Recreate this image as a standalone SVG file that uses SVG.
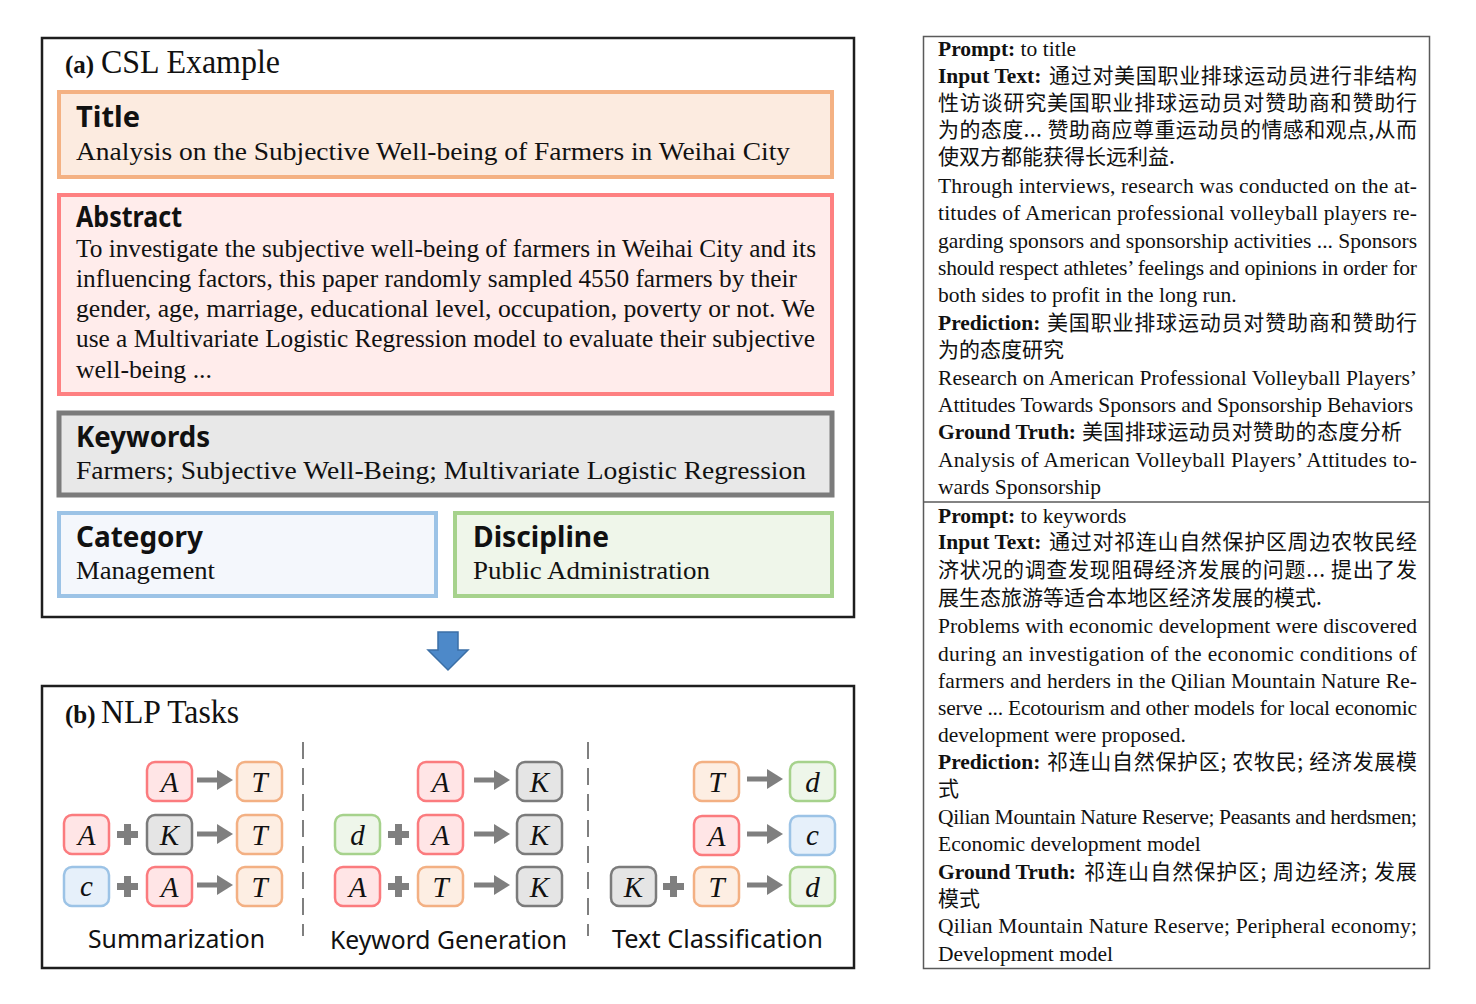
<svg xmlns="http://www.w3.org/2000/svg" width="1476" height="1004" viewBox="0 0 1476 1004">
<defs>
<style>
.panel{fill:#fff;stroke:#1e1e1e;stroke-width:2.5}
.hdr{font-family:"Noto Sans","Open Sans",sans-serif;font-weight:700;font-size:28px;fill:#111}
.val{font-family:"Liberation Serif",serif;font-size:26px;fill:#111}
.ptitle{font-family:"Liberation Serif",serif;font-size:33px;fill:#111}
.plab{font-family:"Liberation Serif",serif;font-size:25px;font-weight:700;fill:#111}
.task{font-family:"Noto Sans","Open Sans",sans-serif;font-size:26px;fill:#111}
.tile{stroke-width:2.5}
.tA{fill:#ffe5e6;stroke:#fb7b7e}
.tT{fill:#fdeee3;stroke:#f3b083}
.tK{fill:#e5e5e5;stroke:#7b7b7b}
.td{fill:#eef6ea;stroke:#a6d28c}
.tc{fill:#e6f0fa;stroke:#9cc3e6}
.let{font-family:"Liberation Serif",serif;font-style:italic;font-size:29px;fill:#111;text-anchor:middle}
.plus{stroke:#7f7f7f;stroke-width:7}
.arr{stroke:#7f7f7f;stroke-width:5}
.sep{stroke:#7f7f7f;stroke-width:2;stroke-dasharray:17 9}
.rt{font-family:"Liberation Serif","Times New Roman",serif;font-size:21.5px;fill:#111}
.rb{font-family:"Liberation Serif","Times New Roman",serif;font-size:21.5px;font-weight:700;fill:#111}
.cj{font-family:"Noto Sans CJK SC","Liberation Serif",sans-serif;font-size:21px;fill:#111}
</style>
<marker id="ah" markerWidth="4" markerHeight="4" refX="0" refY="2" orient="auto" markerUnits="strokeWidth">
<path d="M0,0 L3.2,2 L0,4 z" fill="#7f7f7f"/>
</marker>
</defs>
<rect width="1476" height="1004" fill="#fff"/>

<g id="panel-a">
<rect class="panel" x="42" y="38" width="812" height="579"/>
<text class="plab" x="65" y="73">(a)</text>
<text class="ptitle" x="101" y="73" textLength="179" lengthAdjust="spacingAndGlyphs">CSL Example</text>
</g>

<g id="title-box">
<rect x="59" y="92" width="773" height="85" fill="#fcebe0" stroke="#f4b183" stroke-width="4"/>
<text class="hdr" x="76" y="127" textLength="64" lengthAdjust="spacingAndGlyphs">Title</text>
<text class="val" x="76" y="160" textLength="714" lengthAdjust="spacingAndGlyphs">Analysis on the Subjective Well-being  of Farmers in Weihai  City</text>
</g>

<g id="abstract-box">
<rect x="59" y="195" width="773" height="199" fill="#ffeceb" stroke="#fe8081" stroke-width="4"/>
<text class="hdr" x="76" y="227" textLength="106" lengthAdjust="spacingAndGlyphs">Abstract</text>
<text class="val" x="76" y="257" font-size="25" textLength="740" lengthAdjust="spacingAndGlyphs">To investigate the subjective well-being of farmers in Weihai City and its</text>
<text class="val" x="76" y="287" font-size="25" textLength="721" lengthAdjust="spacingAndGlyphs">influencing factors, this paper randomly sampled 4550 farmers by their</text>
<text class="val" x="76" y="317" font-size="25" textLength="739" lengthAdjust="spacingAndGlyphs">gender, age, marriage, educational level, occupation, poverty or not. We</text>
<text class="val" x="76" y="347" font-size="25" textLength="739" lengthAdjust="spacingAndGlyphs">use a Multivariate Logistic Regression model to evaluate their subjective</text>
<text class="val" x="76" y="378" font-size="25" textLength="136" lengthAdjust="spacingAndGlyphs">well-being ...</text>
</g>

<g id="keywords-box">
<rect x="59" y="413" width="773" height="82" fill="#e8e8e8" stroke="#7b7b7b" stroke-width="5"/>
<text class="hdr" x="76" y="447" textLength="134" lengthAdjust="spacingAndGlyphs">Keywords</text>
<text class="val" x="76" y="479" textLength="730" lengthAdjust="spacingAndGlyphs">Farmers; Subjective Well-Being;  Multivariate  Logistic Regression</text>
</g>

<g id="category-box">
<rect x="59" y="513" width="377" height="83" fill="#f4f7fc" stroke="#9cc3e6" stroke-width="4"/>
<text class="hdr" x="76" y="547" textLength="127" lengthAdjust="spacingAndGlyphs">Category</text>
<text class="val" x="76" y="579" textLength="139" lengthAdjust="spacingAndGlyphs">Management</text>
</g>

<g id="discipline-box">
<rect x="455" y="513" width="377" height="83" fill="#eff6ea" stroke="#a6d28c" stroke-width="4"/>
<text class="hdr" x="473" y="547" textLength="136" lengthAdjust="spacingAndGlyphs">Discipline</text>
<text class="val" x="473" y="579" textLength="237" lengthAdjust="spacingAndGlyphs">Public Administration</text>
</g>

<g id="panel-b">
<rect class="panel" x="42" y="686" width="812" height="282"/>
<text class="plab" x="65" y="723">(b)</text>
<text class="ptitle" x="101" y="723" textLength="138" lengthAdjust="spacingAndGlyphs">NLP Tasks</text>
<line class="sep" x1="303" y1="742" x2="303" y2="936"/>
<line class="sep" x1="588" y1="742" x2="588" y2="936"/>
<text class="task" x="88" y="948" textLength="177" lengthAdjust="spacingAndGlyphs">Summarization</text>
<text class="task" x="330" y="949" textLength="237" lengthAdjust="spacingAndGlyphs">Keyword Generation</text>
<text class="task" x="612" y="948" textLength="211" lengthAdjust="spacingAndGlyphs">Text Classification</text>
</g>

<g id="tiles-summarization">
<rect class="tile tA" x="147" y="762" width="45" height="39" rx="8"/><text class="let" x="169.5" y="792">A</text>
<rect class="tile tT" x="237" y="762" width="45" height="39" rx="8"/><text class="let" x="259.5" y="792">T</text>
<rect class="tile tA" x="64" y="815" width="45" height="39" rx="8"/><text class="let" x="86.5" y="845">A</text>
<rect class="tile tK" x="147" y="815" width="45" height="39" rx="8"/><text class="let" x="169.5" y="845">K</text>
<rect class="tile tT" x="237" y="815" width="45" height="39" rx="8"/><text class="let" x="259.5" y="845">T</text>
<rect class="tile tc" x="64" y="867" width="45" height="39" rx="8"/><text class="let" x="86.5" y="896">c</text>
<rect class="tile tA" x="147" y="867" width="45" height="39" rx="8"/><text class="let" x="169.5" y="897">A</text>
<rect class="tile tT" x="237" y="867" width="45" height="39" rx="8"/><text class="let" x="259.5" y="897">T</text>
<path class="plus" d="M117,834.5h21M127.5,824v21M117,886.5h21M127.5,876v21"/>
</g>

<g id="tiles-keyword">
<rect class="tile tA" x="418" y="762" width="45" height="39" rx="8"/><text class="let" x="440.5" y="792">A</text>
<rect class="tile tK" x="517" y="762" width="45" height="39" rx="8"/><text class="let" x="539.5" y="792">K</text>
<rect class="tile td" x="335" y="815" width="45" height="39" rx="8"/><text class="let" x="357.5" y="845">d</text>
<rect class="tile tA" x="418" y="815" width="45" height="39" rx="8"/><text class="let" x="440.5" y="845">A</text>
<rect class="tile tK" x="517" y="815" width="45" height="39" rx="8"/><text class="let" x="539.5" y="845">K</text>
<rect class="tile tA" x="335" y="867" width="45" height="39" rx="8"/><text class="let" x="357.5" y="897">A</text>
<rect class="tile tT" x="418" y="867" width="45" height="39" rx="8"/><text class="let" x="440.5" y="897">T</text>
<rect class="tile tK" x="517" y="867" width="45" height="39" rx="8"/><text class="let" x="539.5" y="897">K</text>
<path class="plus" d="M388,834.5h21M398.5,824v21M388,886.5h21M398.5,876v21"/>
</g>

<g id="tiles-classification">
<rect class="tile tT" x="694" y="762" width="45" height="39" rx="8"/><text class="let" x="716.5" y="792">T</text>
<rect class="tile td" x="790" y="762" width="45" height="39" rx="8"/><text class="let" x="812.5" y="792">d</text>
<rect class="tile tA" x="694" y="816" width="45" height="39" rx="8"/><text class="let" x="716.5" y="846">A</text>
<rect class="tile tc" x="790" y="816" width="45" height="39" rx="8"/><text class="let" x="812.5" y="845">c</text>
<rect class="tile tK" x="611" y="867" width="45" height="39" rx="8"/><text class="let" x="633.5" y="897">K</text>
<rect class="tile tT" x="694" y="867" width="45" height="39" rx="8"/><text class="let" x="716.5" y="897">T</text>
<rect class="tile td" x="790" y="867" width="45" height="39" rx="8"/><text class="let" x="812.5" y="897">d</text>
<path class="plus" d="M663,886.5h21M673.5,876v21"/>
</g>

<g id="connectors">
<path d="M438,632 H458 V650 H468 L448,670 L428,650 H438 Z" fill="#4d89c9" stroke="#3b6fa6" stroke-width="1.5"/>
<line class="arr" x1="197" y1="780" x2="217" y2="780" marker-end="url(#ah)"/>
<line class="arr" x1="197" y1="834" x2="217" y2="834" marker-end="url(#ah)"/>
<line class="arr" x1="197" y1="885" x2="217" y2="885" marker-end="url(#ah)"/>
<line class="arr" x1="474" y1="780" x2="494" y2="780" marker-end="url(#ah)"/>
<line class="arr" x1="474" y1="834" x2="494" y2="834" marker-end="url(#ah)"/>
<line class="arr" x1="474" y1="885" x2="494" y2="885" marker-end="url(#ah)"/>
<line class="arr" x1="747" y1="779" x2="767" y2="779" marker-end="url(#ah)"/>
<line class="arr" x1="747" y1="834" x2="767" y2="834" marker-end="url(#ah)"/>
<line class="arr" x1="747" y1="885" x2="767" y2="885" marker-end="url(#ah)"/>
</g>

<g id="examples-panel">
<rect x="923.5" y="36.5" width="506" height="932" fill="#fff" stroke="#5a5a5a" stroke-width="1.5"/>
<line x1="923.5" y1="502" x2="1429.5" y2="502" stroke="#5a5a5a" stroke-width="1.5"/>
</g>

<g id="example-title">
<text x="938" y="56"><tspan class="rb">Prompt:</tspan><tspan class="rt"> to title</tspan></text>
<text class="rb" x="938" y="83">Input Text:</text>
<text class="cj" x="1049" y="83" textLength="368" lengthAdjust="spacing">通过对美国职业排球运动员进行非结构</text>
<text class="cj" x="938" y="110" textLength="479" lengthAdjust="spacing">性访谈研究美国职业排球运动员对赞助商和赞助行</text>
<text class="cj" x="938" y="137" textLength="479" lengthAdjust="spacing">为的态度... 赞助商应尊重运动员的情感和观点,从而</text>
<text class="cj" x="938" y="164">使双方都能获得长远利益.</text>
<text class="rt" x="938" y="193" textLength="479" lengthAdjust="spacing">Through interviews, research was conducted on the at-</text>
<text class="rt" x="938" y="220" textLength="479" lengthAdjust="spacing">titudes of American professional volleyball players re-</text>
<text class="rt" x="938" y="248" textLength="479" lengthAdjust="spacing">garding sponsors and sponsorship activities ... Sponsors</text>
<text class="rt" x="938" y="275" textLength="479" lengthAdjust="spacing">should respect athletes’ feelings and opinions in order for</text>
<text class="rt" x="938" y="302">both sides to profit in the long run.</text>
<text class="rb" x="938" y="330">Prediction:</text>
<text class="cj" x="1047" y="330" textLength="370" lengthAdjust="spacing">美国职业排球运动员对赞助商和赞助行</text>
<text class="cj" x="938" y="357">为的态度研究</text>
<text class="rt" x="938" y="385" textLength="479" lengthAdjust="spacing">Research on American Professional Volleyball Players’</text>
<text class="rt" x="938" y="412" textLength="475" lengthAdjust="spacing">Attitudes Towards Sponsors and Sponsorship Behaviors</text>
<text class="rb" x="938" y="439">Ground Truth:</text>
<text class="cj" x="1082" y="439" textLength="320" lengthAdjust="spacing">美国排球运动员对赞助的态度分析</text>
<text class="rt" x="938" y="467" textLength="479" lengthAdjust="spacing">Analysis of American Volleyball Players’ Attitudes to-</text>
<text class="rt" x="938" y="494">wards Sponsorship</text>
</g>

<g id="example-keywords">
<text x="938" y="523"><tspan class="rb">Prompt:</tspan><tspan class="rt"> to keywords</tspan></text>
<text class="rb" x="938" y="549">Input Text:</text>
<text class="cj" x="1049" y="549" textLength="368" lengthAdjust="spacing">通过对祁连山自然保护区周边农牧民经</text>
<text class="cj" x="938" y="577" textLength="479" lengthAdjust="spacing">济状况的调查发现阻碍经济发展的问题... 提出了发</text>
<text class="cj" x="938" y="605">展生态旅游等适合本地区经济发展的模式.</text>
<text class="rt" x="938" y="633" textLength="479" lengthAdjust="spacing">Problems with economic development were discovered</text>
<text class="rt" x="938" y="661" textLength="479" lengthAdjust="spacing">during an investigation of the economic conditions of</text>
<text class="rt" x="938" y="688" textLength="479" lengthAdjust="spacing">farmers and herders in the Qilian Mountain Nature Re-</text>
<text class="rt" x="938" y="715" textLength="479" lengthAdjust="spacing">serve ... Ecotourism and other models for local economic</text>
<text class="rt" x="938" y="742">development were proposed.</text>
<text class="rb" x="938" y="769">Prediction:</text>
<text class="cj" x="1047" y="769" textLength="370" lengthAdjust="spacing">祁连山自然保护区; 农牧民; 经济发展模</text>
<text class="cj" x="938" y="796">式</text>
<text class="rt" x="938" y="824" textLength="479" lengthAdjust="spacing">Qilian Mountain Nature Reserve; Peasants and herdsmen;</text>
<text class="rt" x="938" y="851">Economic development model</text>
<text class="rb" x="938" y="879">Ground Truth:</text>
<text class="cj" x="1084" y="879" textLength="333" lengthAdjust="spacing">祁连山自然保护区; 周边经济; 发展</text>
<text class="cj" x="938" y="906">模式</text>
<text class="rt" x="938" y="933" textLength="479" lengthAdjust="spacing">Qilian Mountain Nature Reserve; Peripheral economy;</text>
<text class="rt" x="938" y="961">Development model</text>
</g>
</svg>
